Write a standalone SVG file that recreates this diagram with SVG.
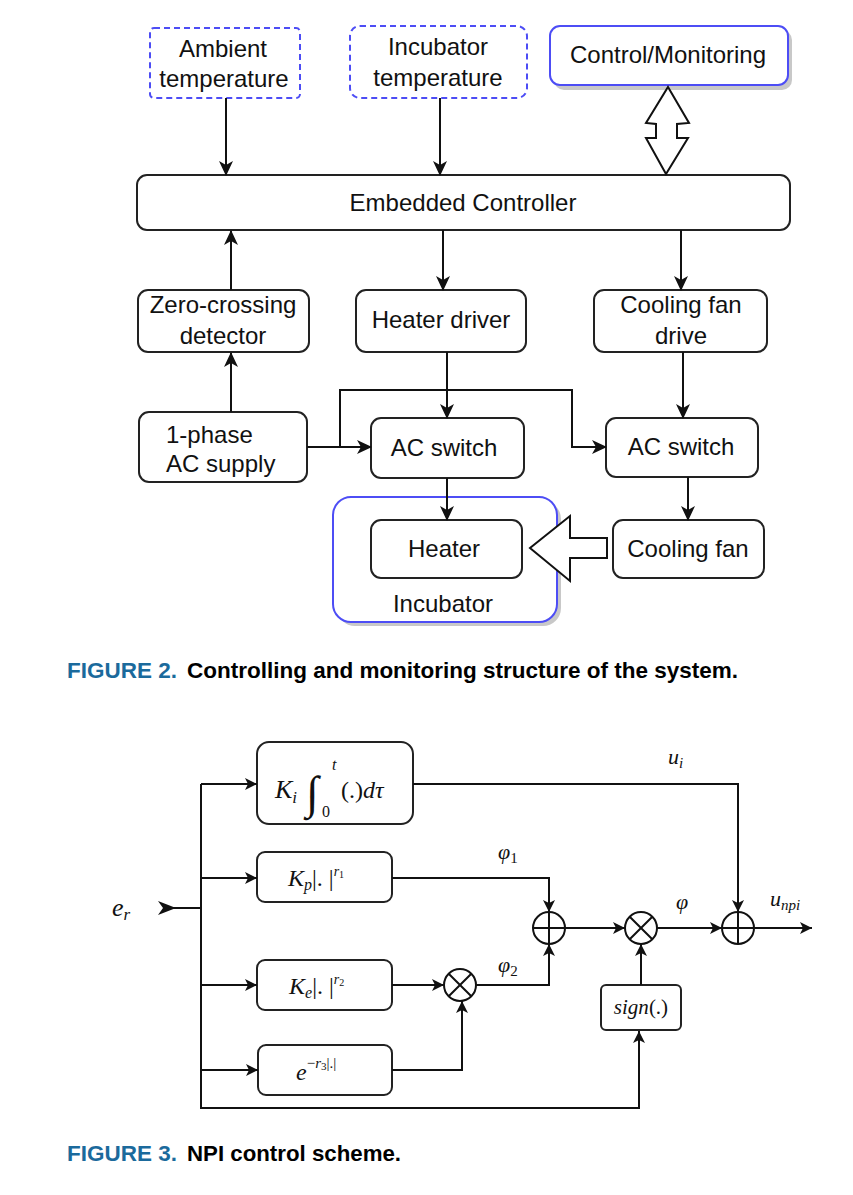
<svg xmlns="http://www.w3.org/2000/svg" width="853" height="1195" viewBox="0 0 853 1195">
<defs>
<style>
.bx{fill:#fff;stroke:#222;stroke-width:2}
.blue{fill:#fff;stroke:#4d4df5;stroke-width:2}
.dash{fill:#fff;stroke:#4d4df5;stroke-width:2;stroke-dasharray:6 4}
.sh{fill:#c8c8c8;stroke:none}
.t{font-family:"Liberation Sans",Arial,sans-serif;font-size:24px;fill:#111;text-anchor:middle}
.c{fill:none;stroke:#111;stroke-width:2}
.m{font-family:"Liberation Serif","DejaVu Serif",serif;font-style:italic;fill:#111}
.mr{font-family:"Liberation Serif","DejaVu Serif",serif;font-style:normal;fill:#111}
.cap{font-family:"Liberation Sans",Arial,sans-serif;font-weight:bold;font-size:22px}
</style>
<marker id="a" markerUnits="userSpaceOnUse" markerWidth="15" markerHeight="14" refX="14" refY="7" orient="auto">
<path d="M0,0 L15,7 L0,14 L4,7 Z" fill="#111"/>
</marker>
<marker id="b" markerUnits="userSpaceOnUse" markerWidth="12" markerHeight="12" refX="12" refY="6" orient="auto">
<path d="M0,0 L12,6 L0,12 L3,6 Z" fill="#111"/>
</marker>
</defs>
<rect width="853" height="1195" fill="#fff"/>

<!-- Figure 2 nodes -->
<g id="ambient"><rect class="dash" x="150" y="28" width="150" height="70" rx="4"/>
<text class="t" x="223" y="57">Ambient</text><text class="t" x="224" y="87">temperature</text></g>
<g id="incubator-temp"><rect class="dash" x="350" y="26" width="177" height="72" rx="10"/>
<text class="t" x="438" y="55">Incubator</text><text class="t" x="438" y="86">temperature</text></g>
<g id="control"><rect class="sh" x="554" y="30" width="238" height="60" rx="10"/><rect class="blue" x="550" y="26" width="238" height="59" rx="10"/>
<text class="t" x="668" y="63">Control/Monitoring</text></g>
<g id="embedded"><rect class="bx" x="137" y="175" width="653" height="55" rx="10"/>
<text class="t" x="463" y="211">Embedded Controller</text></g>
<g id="zero"><rect class="bx" x="138" y="290" width="171" height="62" rx="10"/>
<text class="t" x="223" y="313">Zero-crossing</text><text class="t" x="223" y="344">detector</text></g>
<g id="heater-driver"><rect class="bx" x="356" y="290" width="170" height="62" rx="10"/>
<text class="t" x="441" y="328">Heater driver</text></g>
<g id="fan-drive"><rect class="bx" x="594" y="290" width="173" height="62" rx="10"/>
<text class="t" x="681" y="313">Cooling fan</text><text class="t" x="681" y="344">drive</text></g>
<g id="supply"><rect class="bx" x="139" y="412" width="168" height="70" rx="10"/>
<text class="t" x="166" y="443" style="text-anchor:start">1-phase</text><text class="t" x="166" y="472" style="text-anchor:start">AC supply</text></g>
<g id="acs1"><rect class="bx" x="371" y="418" width="153" height="60" rx="10"/>
<text class="t" x="444" y="456">AC switch</text></g>
<g id="acs2"><rect class="bx" x="606" y="418" width="152" height="59" rx="10"/>
<text class="t" x="681" y="455">AC switch</text></g>
<g id="incubator"><rect class="sh" x="337" y="501" width="224" height="125" rx="18"/><rect class="blue" x="333" y="497" width="224" height="125" rx="18"/>
<text class="t" x="443" y="612">Incubator</text></g>
<g id="heater"><rect class="bx" x="371" y="520" width="151" height="58" rx="10"/>
<text class="t" x="444" y="557">Heater</text></g>
<g id="fan"><rect class="bx" x="613" y="520" width="151" height="58" rx="10"/>
<text class="t" x="688" y="557">Cooling fan</text></g>

<!-- Figure 2 connectors -->
<g id="connectors2">
<path class="c" d="M226,98 V175" marker-end="url(#a)"/>
<path class="c" d="M440,98 V175" marker-end="url(#a)"/>
<path class="c" d="M231,290 V231" marker-end="url(#a)"/>
<path class="c" d="M231,412 V353" marker-end="url(#a)"/>
<path class="c" d="M443,230 V290" marker-end="url(#a)"/>
<path class="c" d="M681,230 V290" marker-end="url(#a)"/>
<path class="c" d="M447,352 V418" marker-end="url(#a)"/>
<path class="c" d="M683,352 V418" marker-end="url(#a)"/>
<path class="c" d="M307,447 H371" marker-end="url(#a)"/>
<path class="c" d="M340,447 V390 H572 V447 H606" marker-end="url(#a)"/>
<path class="c" d="M447,478 V520" marker-end="url(#a)"/>
<path class="c" d="M688,477 V520" marker-end="url(#a)"/>
<path d="M668,87 L689,123 L677,124 L677,138 L688,138 L666,174 L646,138 L656,138 L656,124 L646,123 Z" fill="#fff" stroke="#111" stroke-width="2"/>
<path d="M607,538 L570,538 L570,516 L530,548 L570,581 L570,558 L607,558 Z" fill="#fff" stroke="#111" stroke-width="2"/>
</g>

<text class="cap" x="67" y="678" fill="#1b6a9c" textLength="110" lengthAdjust="spacingAndGlyphs">FIGURE 2.</text>
<text class="cap" x="187" y="678" fill="#000" textLength="551" lengthAdjust="spacingAndGlyphs">Controlling and monitoring structure of the system.</text>

<!-- Figure 3 nodes -->
<g id="ki"><rect class="bx" x="257" y="742" width="156" height="82" rx="12"/>
<text class="m" x="275" y="798" font-size="26">K<tspan font-size="17" dy="5">i</tspan></text>
<text class="mr" x="306" y="808" font-size="46">∫</text>
<text class="m" x="332" y="770" font-size="16">t</text>
<text class="mr" x="322" y="817" font-size="16">0</text>
<text class="mr" x="341" y="798" font-size="24">(.)<tspan class="m">dτ</tspan></text></g>
<g id="kp"><rect class="bx" x="257" y="852" width="135" height="50" rx="8"/>
<text class="m" x="288" y="886" font-size="24">K<tspan font-size="16" dy="4">p</tspan><tspan class="mr" dy="-4">|. |</tspan><tspan font-size="14" dy="-10">r</tspan><tspan class="mr" font-size="10" dy="2">1</tspan></text></g>
<g id="ke"><rect class="bx" x="257" y="960" width="135" height="50" rx="8"/>
<text class="m" x="289" y="994" font-size="24">K<tspan font-size="16" dy="4">e</tspan><tspan class="mr" dy="-4">|. |</tspan><tspan font-size="14" dy="-10">r</tspan><tspan class="mr" font-size="10" dy="2">2</tspan></text></g>
<g id="exp"><rect class="bx" x="258" y="1045" width="134" height="50" rx="8"/>
<text class="m" x="296" y="1080" font-size="24">e<tspan class="mr" font-size="15" dy="-12">−</tspan><tspan font-size="15">r</tspan><tspan class="mr" font-size="11" dy="2">3</tspan><tspan class="mr" font-size="15" dy="-2">|.|</tspan></text></g>
<g id="sign"><rect class="bx" x="601" y="985" width="80" height="45" rx="5"/>
<text class="m" x="641" y="1014" font-size="21" text-anchor="middle">sign<tspan class="mr">(.)</tspan></text></g>
<g id="sum1"><circle cx="549" cy="928" r="16" class="c"/><path class="c" d="M533,928 H565 M549,912 V944"/></g>
<g id="mul1"><circle cx="641" cy="928" r="16" class="c"/><path class="c" d="M629.7,916.7 L652.3,939.3 M652.3,916.7 L629.7,939.3"/></g>
<g id="sum2"><circle cx="738" cy="928" r="16" class="c"/><path class="c" d="M722,928 H754 M738,912 V944"/></g>
<g id="mul2"><circle cx="460" cy="985" r="16" class="c"/><path class="c" d="M448.7,973.7 L471.3,996.3 M471.3,973.7 L448.7,996.3"/></g>

<!-- Figure 3 connectors -->
<g id="connectors3">
<path class="c" d="M165,908 H201"/>
<path d="M158,901 L176,908 L158,915 L163,908 Z" fill="#111"/>
<path class="c" d="M201,784 V1108 H639 V1031" marker-end="url(#b)"/>
<path class="c" d="M201,784 H257" marker-end="url(#b)"/>
<path class="c" d="M201,878 H257" marker-end="url(#b)"/>
<path class="c" d="M201,985 H257" marker-end="url(#b)"/>
<path class="c" d="M201,1070 H258" marker-end="url(#b)"/>
<path class="c" d="M413,784 H738 V912" marker-end="url(#b)"/>
<path class="c" d="M392,878 H549 V912" marker-end="url(#b)"/>
<path class="c" d="M392,985 H444" marker-end="url(#b)"/>
<path class="c" d="M392,1070 H462 V1001" marker-end="url(#b)"/>
<path class="c" d="M476,985 H549 V944" marker-end="url(#b)"/>
<path class="c" d="M565,928 H625" marker-end="url(#b)"/>
<path class="c" d="M657,928 H722" marker-end="url(#b)"/>
<path class="c" d="M754,928 H812" marker-end="url(#b)"/>
<path class="c" d="M641,985 V944" marker-end="url(#b)"/>
</g>

<!-- Figure 3 labels -->
<text class="m" x="112" y="916" font-size="26">e<tspan font-size="17" dy="4">r</tspan></text>
<text class="m" x="668" y="764" font-size="22">u<tspan font-size="15" dy="4">i</tspan></text>
<text class="m" x="498" y="859" font-size="22">φ<tspan class="mr" font-size="15" dy="4">1</tspan></text>
<text class="m" x="498" y="972" font-size="22">φ<tspan class="mr" font-size="15" dy="4">2</tspan></text>
<text class="m" x="676" y="909" font-size="22">φ</text>
<text class="m" x="770" y="906" font-size="22">u<tspan font-size="15" dy="4">npi</tspan></text>

<text class="cap" x="67" y="1161" fill="#1b6a9c" textLength="110" lengthAdjust="spacingAndGlyphs">FIGURE 3.</text>
<text class="cap" x="187" y="1161" fill="#000" textLength="214" lengthAdjust="spacingAndGlyphs">NPI control scheme.</text>
</svg>
